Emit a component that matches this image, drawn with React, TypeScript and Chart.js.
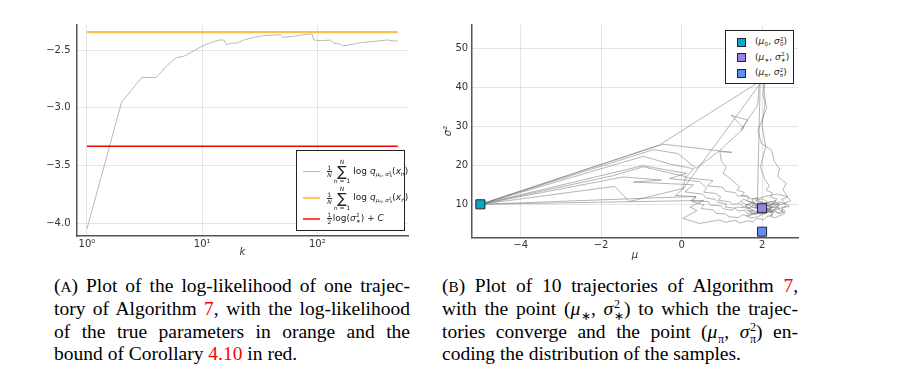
import React, { useEffect, useRef } from "react";
import { Chart, registerables } from "chart.js";
Chart.register(...registerables);

// ---------- Left panel data ----------
const iterK = [1, 2, 3, 4, 5, 6, 7, 8.5, 10, 12, 14, 15.5, 16.3, 18, 20, 23, 28, 34, 42, 48, 50, 63, 76, 90, 93, 107, 130, 139, 160, 165, 194, 237, 310, 405, 465, 500];
const logLikelihood = [-4.05, -2.95, -2.737, -2.737, -2.63, -2.566, -2.552, -2.506, -2.465, -2.434, -2.413, -2.413, -2.454, -2.44, -2.44, -2.413, -2.39, -2.376, -2.37, -2.367, -2.39, -2.38, -2.367, -2.36, -2.413, -2.419, -2.413, -2.44, -2.45, -2.465, -2.454, -2.436, -2.425, -2.413, -2.422, -2.42];
const kRange = [1, 500];
const trueLogLikelihood = -2.344;
const boundValue = -3.333;
const leftXTicks = [1, 10, 100];
const leftXTickLabels = ["10⁰", "10¹", "10²"];
const leftYTicks = [-4, -3.5, -3, -2.5];
const leftYTickLabels = ["−4.0", "−3.5", "−3.0", "−2.5"];

// ---------- Right panel data: [mu, sigma^2] ----------
const traj1 = [[-5, 10], [-0.55, 25.2], [1.95, 41.5], [2.06, 45.8], [2.1, 42.6], [2.02, 37.9], [2.12, 34.8], [1.9, 29], [1.98, 25.6], [2.23, 23.9], [2.31, 20.9], [2.43, 19.2], [2.39, 17.1], [2.6, 15.4], [2.52, 13.7], [2.64, 11.9], [2.48, 11.2], [2.58, 10.1], [2.41, 10.6], [2.33, 9.7], [2.45, 8.9], [2.27, 9.3], [2.18, 8.6], [2.3, 7.9], [2.12, 8.2], [2.05, 9.1], [2.14, 9.6], [2.22, 9.2], [2.31, 9.8], [2.26, 10.4], [2.35, 10.9], [2.18, 10.6], [2.1, 10.1], [1.98, 10.5], [1.9, 9.9], [1.82, 9.4], [1.91, 8.7], [2.02, 8.3], [2.09, 8.8], [2.0, 9.0]];
const traj2 = [[-5, 10], [-0.46, 25.4], [1.25, 23.3], [0.95, 23.5], [0.99, 20.9], [1.11, 19.6], [1.03, 17.9], [1.15, 17.1], [1.44, 14.5], [1.38, 13.6], [1.56, 13.1], [1.49, 12.2], [1.68, 11.8], [1.62, 10.9], [1.81, 10.4], [1.74, 9.6], [1.93, 9.9], [1.88, 8.8], [2.04, 8.4], [1.97, 7.6], [2.14, 7.9], [2.08, 8.9], [1.94, 9.5], [1.86, 10.2], [1.75, 10.6], [1.68, 10.1], [1.59, 9.6], [1.66, 9.0], [1.77, 8.6], [1.72, 7.9], [1.84, 7.4], [1.93, 7.9], [2.03, 8.5], [1.98, 9.2]];
const traj3 = [[-5, 10], [-0.7, 24.0], [-0.09, 23.0], [0.36, 19.2], [0.94, 23.7], [1.55, 29.5], [1.23, 32.8], [1.64, 31.6], [1.48, 29.1], [1.89, 35.4], [1.96, 44.5], [1.88, 9.5], [1.97, 10.4], [1.83, 11.1], [2.02, 11.4], [2.13, 10.6], [2.09, 9.8], [2.24, 9.5], [2.11, 8.7], [2.22, 8.1], [2.34, 8.4], [2.4, 7.8], [2.52, 8.3], [2.47, 9.1], [2.6, 9.5], [2.54, 10.2], [2.42, 9.8], [2.28, 10.2], [2.15, 9.6], [2.04, 9.9], [1.96, 9.4], [2.0, 9.0]];
const traj4 = [[-5, 10], [-0.96, 19.9], [0.12, 17.9], [-0.3, 16.6], [0.45, 15.8], [0.62, 14.2], [0.55, 13.1], [0.84, 12.8], [0.97, 11.9], [0.92, 11.0], [1.18, 10.7], [1.26, 10.0], [1.45, 10.2], [1.52, 9.4], [1.71, 9.1], [1.66, 8.3], [1.85, 8.0], [1.92, 8.7], [2.08, 8.4], [2.03, 9.2], [1.89, 9.6], [1.79, 10.3], [1.66, 10.8], [1.54, 11.3], [1.46, 10.7], [1.57, 10.1], [1.69, 9.7], [1.8, 9.1], [1.92, 9.4], [2.0, 9.0]];
const traj5 = [[-5, 10], [-1.72, 17.3], [-0.95, 19.6], [0.1, 17.1], [0.03, 13.9], [2.02, 41.8], [2.08, 36.5], [2.0, 30.2], [2.09, 24.8], [1.96, 19.5], [2.07, 16.3], [2.18, 14.8], [2.1, 13.6], [2.26, 12.9], [2.2, 11.9], [2.37, 11.4], [2.29, 10.6], [2.44, 10.2], [2.35, 9.4], [2.21, 9.1], [2.16, 8.2], [2.27, 7.5], [2.19, 6.9], [2.33, 6.6], [2.44, 7.1], [2.56, 7.6], [2.5, 8.4], [2.38, 8.8], [2.27, 8.5], [2.12, 8.9], [2.03, 8.5], [2.0, 9.0]];
const traj6 = [[-5, 10], [-1.45, 17.0], [-0.5, 16.2], [-1.2, 15.7], [0.3, 15.0], [0.08, 13.2], [0.52, 12.6], [0.61, 11.6], [0.83, 11.3], [0.9, 10.5], [1.12, 10.1], [1.08, 9.3], [1.33, 9.0], [1.41, 8.3], [1.58, 8.5], [1.63, 7.7], [1.82, 7.4], [1.9, 8.1], [2.07, 7.8], [2.12, 8.7], [2.25, 9.3], [2.19, 10.0], [2.05, 10.4], [1.93, 10.9], [1.86, 11.6], [1.75, 11.2], [1.8, 10.4], [1.9, 9.8], [1.97, 9.3], [2.0, 9.0]];
const traj7 = [[-5, 10], [-1.66, 14.6], [-1.3, 10.7], [0.05, 14.1], [-0.15, 12.3], [0.35, 11.9], [0.28, 10.6], [0.55, 9.9], [0.49, 8.9], [0.78, 8.6], [0.86, 7.7], [1.1, 7.5], [1.18, 6.8], [1.42, 6.6], [1.51, 7.3], [1.7, 7.0], [1.79, 7.8], [1.96, 7.5], [2.08, 8.3], [2.2, 8.9], [2.14, 9.6], [2.29, 10.1], [2.2, 10.7], [2.06, 10.2], [1.95, 9.7], [1.84, 9.2], [1.93, 8.6], [2.02, 8.8], [1.99, 9.0]];
const traj8 = [[-5, 10], [0.55, 11.0], [0.21, 9.3], [0.38, 8.4], [0.03, 6.4], [0.45, 5.1], [0.94, 6.0], [1.1, 5.4], [1.32, 5.9], [1.46, 5.2], [1.63, 5.8], [1.78, 5.5], [1.86, 6.4], [2.04, 6.1], [2.12, 6.9], [2.27, 7.3], [2.19, 8.0], [2.06, 8.4], [1.92, 8.1], [1.8, 8.5], [1.67, 8.2], [1.61, 8.9], [1.72, 9.3], [1.85, 9.0], [1.96, 9.5], [2.01, 9.0]];
const traj9 = [[-5, 10], [-0.02, 11.9], [0.36, 12.0], [0.22, 10.9], [0.66, 10.7], [0.71, 9.8], [0.98, 9.6], [1.04, 8.8], [1.27, 8.5], [1.35, 9.3], [1.58, 9.1], [1.62, 10.0], [1.8, 10.3], [1.86, 9.5], [2.05, 9.7], [2.12, 9.0], [2.21, 8.4], [2.33, 8.9], [2.42, 9.6], [2.36, 10.3], [2.24, 10.0], [2.13, 10.5], [2.02, 10.0], [1.94, 9.3], [2.0, 8.9]];
const traj10 = [[-5, 10], [-0.95, 22.3], [-0.25, 20.2], [0.3, 19.1], [0.1, 16.8], [0.78, 16.1], [0.64, 14.7], [1.02, 14.4], [1.1, 13.3], [1.33, 13.0], [1.4, 12.1], [1.62, 12.3], [1.7, 11.4], [1.92, 11.6], [2.15, 12.2], [2.38, 12.6], [2.62, 12.0], [2.71, 10.9], [2.56, 10.4], [2.68, 9.5], [2.49, 9.0], [2.58, 8.1], [2.4, 7.6], [2.31, 8.3], [2.15, 8.1], [2.05, 8.8], [1.93, 8.4], [1.84, 7.8], [1.71, 7.5], [1.62, 6.9], [1.74, 6.5], [1.88, 6.8], [1.99, 7.3], [2.1, 7.7], [2.18, 8.4], [2.07, 8.8], [2.0, 9.0]];
const trajectories = [traj1, traj2, traj3, traj4, traj5, traj6, traj7, traj8, traj9, traj10];
const startPoint = [-5, 10];
const convergePoint = [2, 9];
const samplePoint = [2, 3];
const rightXTicks = [-4, -2, 0, 2];
const rightXTickLabels = ["−4", "−2", "0", "2"];
const rightYTicks = [10, 20, 30, 40, 50];
const rightYTickLabels = ["10", "20", "30", "40", "50"];

const markerColors = ["#00A9CD", "#9B7FE9", "#618DF6"];
const tickFont = { family: "DejaVu Sans", size: 10 };
const tickColor = "#333";
const gridColor = "rgba(0,0,0,0.1)";
const axisColor = "#555";

// symbol with stacked superscript / subscript
function SS({ b, sub, sup, italic = true }: any) {
  return (
    <span style={{ whiteSpace: "nowrap" }}>
      <span style={{ fontStyle: italic ? "italic" : "normal" }}>{b}</span>
      <span style={{ display: "inline-flex", flexDirection: "column", fontSize: "0.62em", lineHeight: 1, verticalAlign: "0.62em", marginLeft: "0.06em" }}>
        <span>{sup != null ? sup : "\u00a0"}</span>
        <span>{sub != null ? sub : "\u00a0"}</span>
      </span>
    </span>
  );
}

function Frac({ n, d, size }: any) {
  return (
    <span style={{ display: "inline-flex", flexDirection: "column", alignItems: "center", fontSize: size, lineHeight: 1, margin: "0 1px" }}>
      <span style={{ borderBottom: "0.7px solid #222", padding: "0 0.5px" }}>{n}</span>
      <span>{d}</span>
    </span>
  );
}

function Sum() {
  return (
    <span style={{ display: "inline-flex", flexDirection: "column", alignItems: "center", lineHeight: 1, margin: "0 1px" }}>
      <span style={{ fontSize: 6, fontStyle: "italic" }}>N</span>
      <span style={{ fontSize: 14, lineHeight: 0.9 }}>∑</span>
      <span style={{ fontSize: 6 }}><i>n</i> = 1</span>
    </span>
  );
}

function LegendLeft() {
  const entry = (y: number, color: string, lw: number, content: any) => (
    <>
      <div style={{ position: "absolute", left: 6, top: y - lw / 2, width: 17, height: lw, background: color }} />
      <div style={{ position: "absolute", left: 29, top: y - 12, height: 24, display: "flex", alignItems: "center", whiteSpace: "nowrap" }}>{content}</div>
    </>
  );
  const small = { fontSize: "0.75em", verticalAlign: "-0.2em" };
  const logq = (s: string) => (
    <span style={{ marginLeft: 2 }}>
      log <i>q</i>
      <span style={{ fontSize: "0.62em", verticalAlign: "-0.4em" }}>
        <i>μ</i><span style={small}>{s}</span>, <i>σ</i><span style={{ fontSize: "0.75em", verticalAlign: "0.45em" }}>2</span><span style={{ ...small, marginLeft: "-0.4em" }}>{s}</span>
      </span>
      (<i>x</i><span style={{ fontSize: "0.65em", verticalAlign: "-0.3em" }}>n</span>)
    </span>
  );
  return (
    <div style={{ position: "absolute", left: 296, top: 150, width: 109, height: 81, border: "1px solid #222", background: "#fff", boxSizing: "border-box", fontFamily: "DejaVu Sans", fontSize: 9, color: "#222" }}>
      {entry(20.7, "#b8b8b8", 1.2, <><Frac n="1" d={<i>N</i>} size={6} /><Sum />{logq("k")}</>)}
      {entry(47.3, "#ffc45e", 2.2, <><Frac n="1" d={<i>N</i>} size={6} /><Sum />{logq("π")}</>)}
      {entry(67.7, "#ff4a4a", 2.2, <><Frac n="1" d="2" size={6} /><span>log(<SS b="σ" sub="∗" sup="2" />) + <i>C</i></span></>)}
    </div>
  );
}

function LegendRight() {
  const ys = [11, 26.5, 42];
  const labels = [
    <>(<SS b="μ" sub="0" />, <SS b="σ" sub="0" sup="2" />)</>,
    <>(<SS b="μ" sub="∗" />, <SS b="σ" sub="∗" sup="2" />)</>,
    <>(<SS b="μ" sub="π" />, <SS b="σ" sub="π" sup="2" />)</>,
  ];
  return (
    <div style={{ position: "absolute", left: 725, top: 30, width: 69, height: 54, border: "1px solid #222", background: "#fff", boxSizing: "border-box", fontFamily: "DejaVu Sans", fontSize: 9, color: "#222" }}>
      {ys.map((y, i) => (
        <React.Fragment key={i}>
          <div style={{ position: "absolute", left: 10.5, top: y - 4.5, width: 7, height: 7, background: markerColors[i], border: "1px solid #222" }} />
          <div style={{ position: "absolute", left: 29, top: y - 7, height: 12, lineHeight: "12px", whiteSpace: "nowrap" }}>{labels[i]}</div>
        </React.Fragment>
      ))}
    </div>
  );
}

const red = { color: "#ff0000" };
const capFont = { fontFamily: "'Liberation Serif', serif", fontSize: 19.5, lineHeight: "22.6px", color: "#000" };
const just = { textAlign: "justify" as const, textAlignLast: "justify" as const, height: 22.6 };
const last = { textAlign: "left" as const, height: 22.6, whiteSpace: "nowrap" as const };

function Captions() {
  return (
    <>
      <div style={{ position: "absolute", left: 54, top: 275.4, width: 356, ...capFont }}>
        <div style={just}>(<span style={{ fontSize: "0.78em" }}>A</span>) Plot of the log-likelihood of one trajec-</div>
        <div style={just}>tory of Algorithm <span style={red}>7</span>, with the log-likelihood</div>
        <div style={just}>of the true parameters in orange and the</div>
        <div style={last}>bound of Corollary <span style={red}>4.10</span> in red.</div>
      </div>
      <div style={{ position: "absolute", left: 442, top: 275.4, width: 356, ...capFont }}>
        <div style={just}>(<span style={{ fontSize: "0.78em" }}>B</span>) Plot of 10 trajectories of Algorithm <span style={red}>7</span>,</div>
        <div style={just}>with the point (<SS b="μ" sub="∗" />, <SS b="σ" sub="∗" sup="2" />) to which the trajec-</div>
        <div style={just}>tories converge and the point (<SS b="μ" sub="π" />, <SS b="σ" sub="π" sup="2" />) en-</div>
        <div style={last}>coding the distribution of the samples.</div>
      </div>
    </>
  );
}

export default function App() {
  const leftRef = useRef<HTMLCanvasElement>(null);
  const rightRef = useRef<HTMLCanvasElement>(null);

  useEffect(() => {
    const left = new Chart(leftRef.current!, {
      type: "scatter",
      data: {
        datasets: [
          { data: kRange.map((k) => ({ x: k, y: boundValue })), borderColor: "#ff0000", borderWidth: 1.4, showLine: true, pointRadius: 0 },
          { data: kRange.map((k) => ({ x: k, y: trueLogLikelihood })), borderColor: "#ffbf4d", borderWidth: 2.2, showLine: true, pointRadius: 0 },
          { data: iterK.map((k, i) => ({ x: k, y: logLikelihood[i] })), borderColor: "#b8b8b8", borderWidth: 1, showLine: true, pointRadius: 0 },
        ],
      },
      options: {
        animation: false,
        responsive: false,
        maintainAspectRatio: false,
        layout: { padding: { left: 0, top: 25, right: 46, bottom: 0 } },
        plugins: { legend: { display: false }, tooltip: { enabled: false } },
        scales: {
          x: {
            type: "logarithmic",
            min: 0.82,
            max: 612,
            afterBuildTicks: (s: any) => { s.ticks = leftXTicks.map((v) => ({ value: v })); },
            afterFit: (s: any) => { s.height = 26; },
            ticks: { callback: (_v: any, i: number) => leftXTickLabels[i], font: tickFont, color: tickColor, padding: 2, maxRotation: 0, autoSkip: false },
            grid: { color: gridColor, drawTicks: false },
            border: { color: axisColor, width: 1.5 },
            title: { display: true, text: "k", font: { family: "DejaVu Sans", size: 10, style: "italic" }, color: tickColor, padding: { top: 0, bottom: 4 } },
          },
          y: {
            type: "linear",
            min: -4.11,
            max: -2.283,
            afterBuildTicks: (s: any) => { s.ticks = leftYTicks.map((v) => ({ value: v })); },
            afterFit: (s: any) => { s.width = 77; },
            ticks: { callback: (_v: any, i: number) => leftYTickLabels[i], font: tickFont, color: tickColor, padding: 6.5, autoSkip: false },
            grid: { color: gridColor, drawTicks: false },
            border: { color: axisColor, width: 1.5 },
          },
        },
      },
    } as any);

    const rightDatasets: any[] = [
      { data: [{ x: startPoint[0], y: startPoint[1] }], backgroundColor: markerColors[0], borderColor: "#222", borderWidth: 1, pointStyle: "rect", pointRadius: 6.4 },
      { data: [{ x: convergePoint[0], y: convergePoint[1] }], backgroundColor: markerColors[1], borderColor: "#222", borderWidth: 1, pointStyle: "rect", pointRadius: 6.4 },
      { data: [{ x: samplePoint[0], y: samplePoint[1] }], backgroundColor: markerColors[2], borderColor: "#222", borderWidth: 1, pointStyle: "rect", pointRadius: 6.4 },
      ...trajectories.map((t) => ({
        data: t.map((p) => ({ x: p[0], y: p[1] })),
        borderColor: "rgba(120,120,120,0.55)",
        borderWidth: 1,
        showLine: true,
        pointRadius: 0,
      })),
    ];

    const right = new Chart(rightRef.current!, {
      type: "scatter",
      data: { datasets: rightDatasets },
      options: {
        animation: false,
        responsive: false,
        maintainAspectRatio: false,
        layout: { padding: { left: 0, top: 25, right: 109.7, bottom: 0 } },
        plugins: { legend: { display: false }, tooltip: { enabled: false } },
        scales: {
          x: {
            type: "linear",
            min: -5.216,
            max: 2.9,
            afterBuildTicks: (s: any) => { s.ticks = rightXTicks.map((v) => ({ value: v })); },
            afterFit: (s: any) => { s.height = 24.7; },
            ticks: { callback: (_v: any, i: number) => rightXTickLabels[i], font: tickFont, color: tickColor, padding: 2, maxRotation: 0, autoSkip: false },
            grid: { color: gridColor, drawTicks: false },
            border: { color: axisColor, width: 1.5 },
            title: { display: true, text: "μ", font: { family: "DejaVu Sans", size: 10, style: "italic" }, color: tickColor, padding: { top: 0, bottom: 1 } },
          },
          y: {
            type: "linear",
            min: 1.56,
            max: 55.9,
            afterBuildTicks: (s: any) => { s.ticks = rightYTicks.map((v) => ({ value: v })); },
            afterFit: (s: any) => { s.width = 41.7; },
            ticks: { callback: (_v: any, i: number) => rightYTickLabels[i], font: tickFont, color: tickColor, padding: 3.5, autoSkip: false },
            grid: { color: gridColor, drawTicks: false },
            border: { color: axisColor, width: 1.5 },
            title: { display: true, text: "σ²", font: { family: "DejaVu Sans", size: 10, style: "italic" }, color: tickColor, padding: { top: 12, bottom: 0 } },
          },
        },
      },
    } as any);

    return () => {
      left.destroy();
      right.destroy();
    };
  }, []);

  return (
    <div style={{ position: "fixed", left: 0, top: 0, width: 908, height: 382, background: "#fff", overflow: "hidden" }}>
      <canvas ref={leftRef} width={454} height={262} style={{ position: "absolute", left: 0, top: 0, width: 454, height: 262 }} />
      <canvas ref={rightRef} width={478} height={262} style={{ position: "absolute", left: 430, top: 0, width: 478, height: 262 }} />
      <LegendLeft />
      <LegendRight />
      <Captions />
    </div>
  );
}
